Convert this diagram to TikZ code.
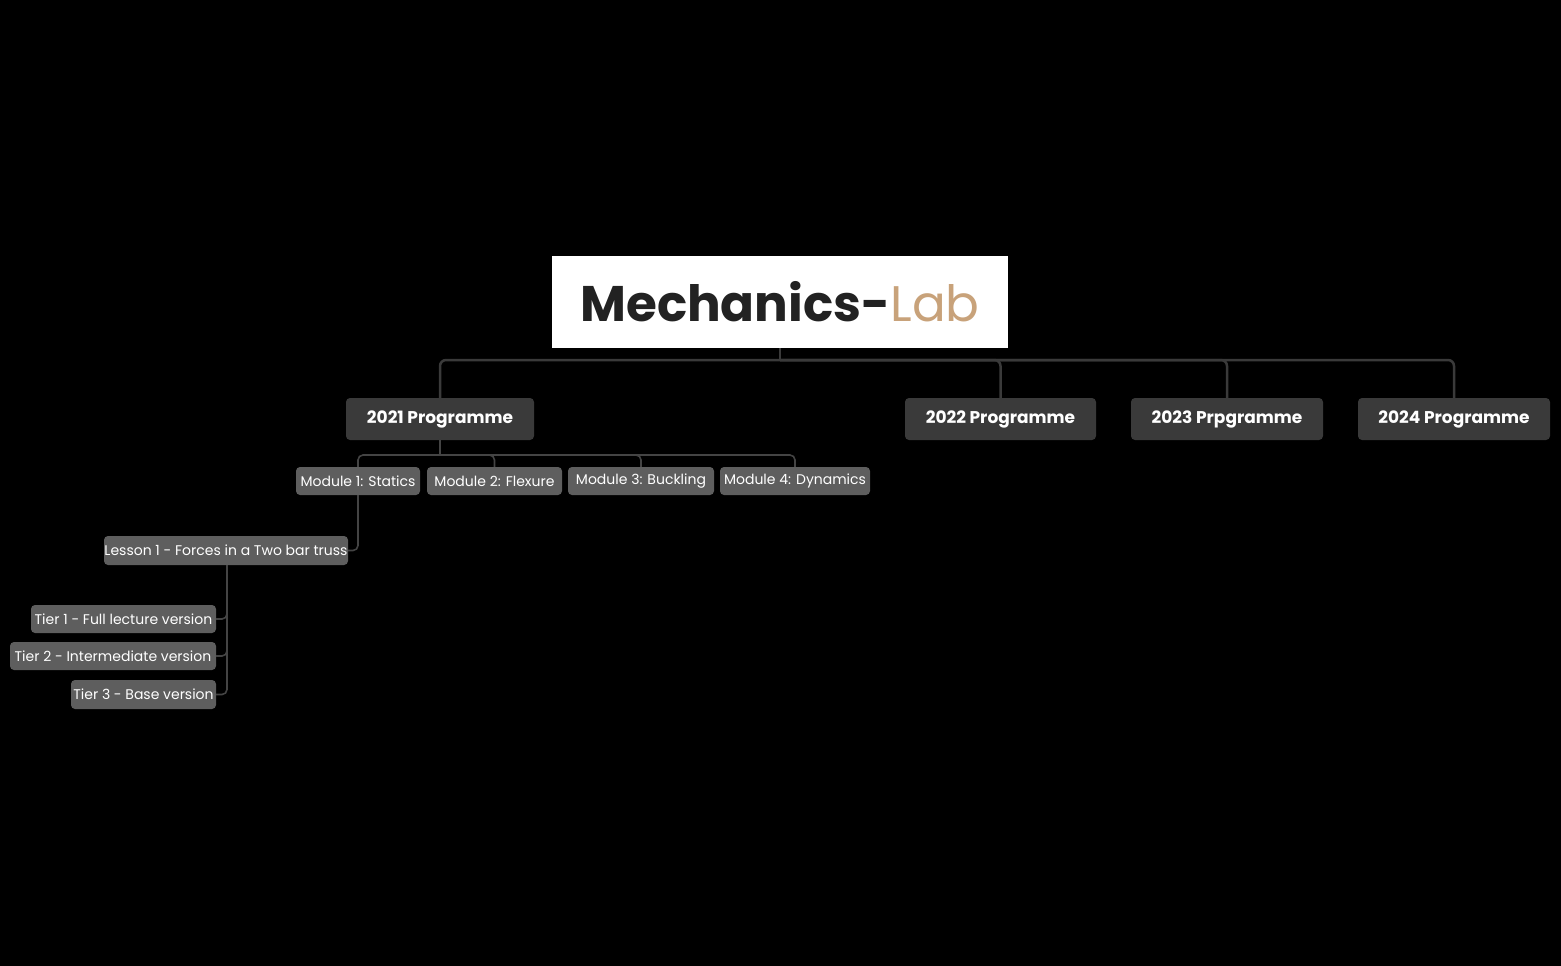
\documentclass[tikz,border=0pt]{standalone}
\usepackage{fontspec}
\setmainfont{Poppins}
\begin{document}
\begin{tikzpicture}[x=1pt,y=-1pt,
 prog/.style={fill=progc,rounded corners=4pt,text=white,font=\fontsize{17}{20}\selectfont\bfseries,inner sep=0pt,minimum height=42pt},
 mod/.style={fill=modc,rounded corners=4pt,text=white,font=\fontsize{14}{16}\selectfont,inner sep=0pt,minimum height=28pt},
 lk/.style={draw=progc,line width=2.5pt,rounded corners=6pt},
 lk2/.style={draw=linec,line width=1.6pt,rounded corners=5pt}]
\definecolor{progc}{HTML}{3A3A3A}
\definecolor{modc}{HTML}{5E5E5E}
\definecolor{linec}{HTML}{444444}
\definecolor{tan}{HTML}{C8A27A}
\fill[black] (0,0) rectangle (1561,966);
\useasboundingbox (0,0) rectangle (1561,966);
\node[fill=white,minimum width=456pt,minimum height=92pt,inner sep=0pt,font=\fontsize{50}{56}\selectfont] (t) at (780,302) {\textcolor[HTML]{222222}{\bfseries Mechanics-}\textcolor{tan}{Lab}};
\node[prog,minimum width=188pt] (p1) at (440,419) {2021 Programme};
\node[prog,minimum width=191pt] (p2) at (1000.5,419) {2022 Programme};
\node[prog,minimum width=192pt] (p3) at (1227,419) {2023 Prpgramme};
\node[prog,minimum width=192pt] (p4) at (1454,419) {2024 Programme};
\coordinate (j) at (780,360);
\draw[lk] (t.south) -- (j);
\foreach \p in {p1,p2,p3,p4} \draw[lk] (j) -| (\p.north);
\node[mod,minimum width=124pt] (m1) at (358,481) {Module 1: Statics};
\node[mod,minimum width=135pt] (m2) at (494.5,481) {Module 2: Flexure};
\node[mod,minimum width=146pt] (m3) at (641,481) {Module 3: Buckling};
\node[mod,minimum width=150pt] (m4) at (795,481) {Module 4: Dynamics};
\coordinate (k) at (440,455);
\draw[lk2] (p1.south) -- (k);
\foreach \m in {m1,m2,m3,m4} \draw[lk2] (k) -| (\m.north);
\node[mod,minimum width=244pt,minimum height=29pt] (l) at (226,550.5) {Lesson 1 - Forces in a Two bar truss};
\draw[lk2] (m1.south) |- (l.east);
\node[mod,minimum width=185pt] (r1) at (123.5,619) {Tier 1 - Full lecture version};
\node[mod,minimum width=206pt] (r2) at (113,656) {Tier 2 - Intermediate version};
\node[mod,minimum width=145pt,minimum height=29pt] (r3) at (143.5,694.5) {Tier 3 - Base version};
\coordinate (lb) at (227,565);
\foreach \r in {r1,r2,r3} \draw[lk2] (lb) |- (\r.east);
\end{tikzpicture}
\end{document}
